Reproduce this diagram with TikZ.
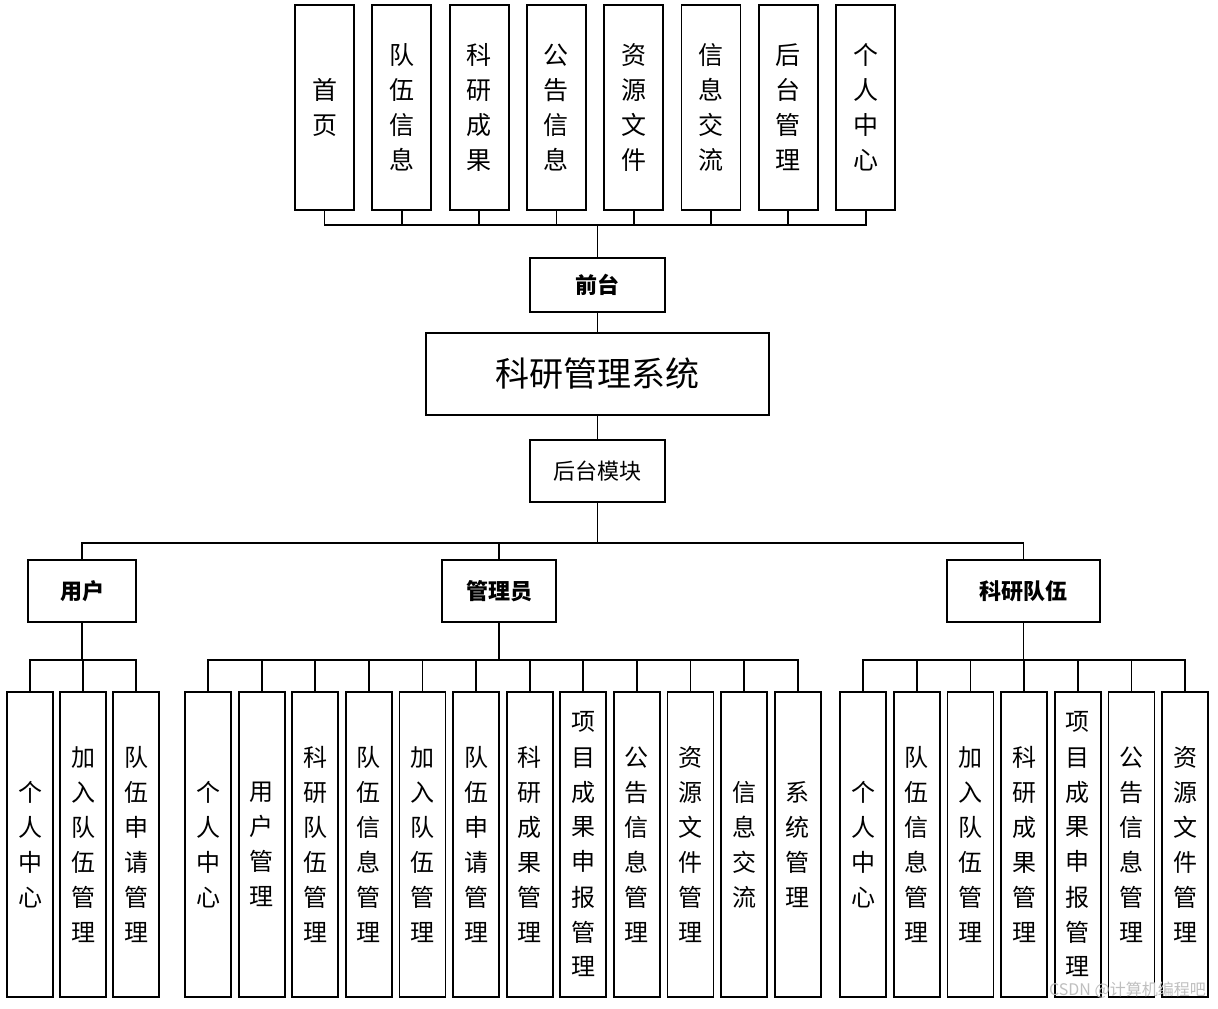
\documentclass[tikz,border=0pt]{standalone}
\usepackage{fontspec}
\setmainfont{Noto Sans CJK SC}
\begin{document}
\begin{tikzpicture}[x=1pt,y=-1pt,line width=1.8pt,
  bx/.style={draw,inner sep=0pt,align=center},
  tbox/.style={bx,minimum width=59pt,minimum height=205pt,font=\fontsize{25}{35}\selectfont},
  bbox/.style={bx,minimum width=46pt,minimum height=305pt,font=\fontsize{24}{35}\selectfont},
  mbox/.style={bx,font=\fontsize{22}{26}\selectfont},
  rbox/.style={bx,minimum height=62pt,font=\fontsize{22}{26}\selectfont\bfseries}]
\useasboundingbox (0,0) rectangle (1218,1009);
% top
\foreach \t [count=\i] in {{首\\页},{队\\伍\\信\\息},{科\\研\\成\\果},{公\\告\\信\\息},{资\\源\\文\\件},{信\\息\\交\\流},{后\\台\\管\\理},{个\\人\\中\\心}}{
  \node[tbox] (t\i) at ({324.5+77.3*(\i-1)},107.5) {\t};
  \draw (t\i.south) -- ++(0,15);
}
\coordinate (tb1) at (324.5,225); \coordinate (tb2) at (865.5,225);
\draw (tb1) -- (tb2);
\node[mbox,minimum width=135pt,minimum height=54pt,font=\fontsize{22}{26}\selectfont\bfseries] (qt) at (597.5,285) {前台};
\node[bx,minimum width=343pt,minimum height=82pt,font=\fontsize{34}{40}\selectfont] (sys) at (597.5,374) {科研管理系统};
\node[mbox,minimum width=135pt,minimum height=62pt] (ht) at (597.5,471) {后台模块};
\draw (qt.north) -- (qt.north|-tb1);
\draw (qt) -- (sys); \draw (sys) -- (ht);
\coordinate (mb) at (597.5,543);
\draw (ht.south) -- (mb);
\node[rbox,minimum width=108pt] (u) at (82,591) {用户};
\node[rbox,minimum width=114pt] (a) at (499,591) {管理员};
\node[rbox,minimum width=153pt] (k) at (1023.5,591) {科研队伍};
\draw (u.north) -- (82,543) -- (1023.5,543) -- (k.north);
\draw (a.north) -- (a.north|-mb);
% group 1
\foreach \t [count=\i] in {{个\\人\\中\\心},{加\\入\\队\\伍\\管\\理},{队\\伍\\申\\请\\管\\理}}{
  \node[bbox] (u\i) at ({30+53*(\i-1)},844.5) {\t};
  \draw (u\i.north) -- ++(0,-32);
}
\draw (u1.north|-0,660) -- (u3.north|-0,660);
\draw (u.south) -- (82,660);
% group 2
\foreach \t [count=\i] in {{个\\人\\中\\心},{用\\户\\管\\理},{科\\研\\队\\伍\\管\\理},{队\\伍\\信\\息\\管\\理},{加\\入\\队\\伍\\管\\理},{队\\伍\\申\\请\\管\\理},{科\\研\\成\\果\\管\\理},{项\\目\\成\\果\\申\\报\\管\\理},{公\\告\\信\\息\\管\\理},{资\\源\\文\\件\\管\\理},{信\\息\\交\\流},{系\\统\\管\\理}}{
  \node[bbox] (a\i) at ({208+53.6*(\i-1)},844.5) {\t};
  \draw (a\i.north) -- ++(0,-32);
}
\draw (a1.north|-0,660) -- (a12.north|-0,660);
\draw (a.south) -- (499,660);
% group 3
\foreach \t [count=\i] in {{个\\人\\中\\心},{队\\伍\\信\\息\\管\\理},{加\\入\\队\\伍\\管\\理},{科\\研\\成\\果\\管\\理},{项\\目\\成\\果\\申\\报\\管\\理},{公\\告\\信\\息\\管\\理},{资\\源\\文\\件\\管\\理}}{
  \node[bbox] (k\i) at ({863+53.7*(\i-1)},844.5) {\t};
  \draw (k\i.north) -- ++(0,-32);
}
\draw (k1.north|-0,660) -- (k7.north|-0,660);
\draw (k.south) -- (1023.5,660);
\node[text=gray!50,font=\fontsize{16}{18}\selectfont,anchor=east] (wm) at (1210,990) {CSDN @计算机编程吧};
\end{tikzpicture}
\end{document}
